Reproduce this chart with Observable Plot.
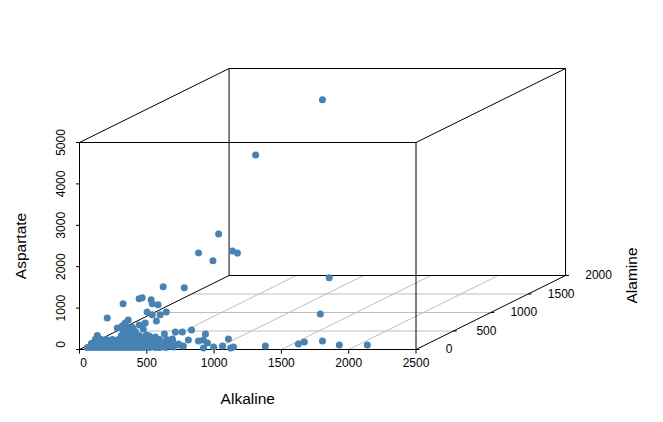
<!DOCTYPE html>
<html><head><meta charset="utf-8">
<script src="https://cdn.jsdelivr.net/npm/d3@7"></script>
<script src="https://cdn.jsdelivr.net/npm/@observablehq/plot@0.6"></script>
<style>html,body{margin:0;padding:0;background:#fff}svg{display:block}</style>
</head><body><div id="chart"></div>
<script>
const alkaline = [45,75,105,135,165,194,224,254,284,314,344,373,403,433,463,508,552,582,627,
48,85,123,160,197,235,272,309,346,384,421,466,503,540,593,630,
51,96,133,178,222,267,305,349,394,431,476,528,581,
39,218,263,307,352,
206,251,295,
165,210,247,
50,72,398,202,365,17,103,119,199,234,284,249,307,366,391,378,95,162,159,157,134,308,277,334,397,425,477,524,592,644,699,829,1033,1354,742,617,824,854,904,908,976,1036,1109,1124,695,678,745,589,1586,1617,1745,1897,2105,1549,1375,
1138,753,589,551,692,729,631,649,708];
const alamine = [24,24,24,24,24,24,24,24,24,24,24,24,24,24,24,24,24,24,24,
72,72,72,72,72,72,72,72,72,72,72,72,72,72,72,72,
120,120,120,120,120,120,120,120,120,120,120,120,120,
168,168,168,168,168,
216,216,216,
264,264,264,
132,132,1068,756,744,552,612,624,600,552,540,456,420,420,456,348,200,360,324,288,264,324,300,252,180,168,156,192,216,216,240,192,132,48,120,132,108,120,84,24,36,48,24,36,72,36,48,48,72,96,108,60,60,432,864,
1200,1000,800,600,800,800,108,48,60];
const aspartate = [27,27,27,27,27,27,27,27,27,27,27,27,27,27,27,27,27,27,27,
81,81,81,81,81,81,81,81,81,81,81,81,81,81,81,81,
135,135,135,135,135,135,135,135,135,135,135,135,135,
189,189,189,189,189,
243,243,243,
297,297,297,
137,137,1190,839,825,609,677,690,663,609,596,501,461,461,501,380,585,393,353,312,285,353,326,272,191,177,164,204,231,231,258,204,137,42,123,137,110,123,83,15,29,42,15,29,69,29,42,42,69,96,110,56,56,474,960,
4960,3805,2075,1795,1665,1615,110,42,56];
const alkalineTicks = [0,500,1000,1500,2000,2500];
const alamineTicks = [0,500,1000,1500,2000];
const aspartateTicks = [0,1000,2000,3000,4000,5000];

// oblique projection of scatterplot3d: depth along Alamine shifts right and up
const depthX = 0.5556, depthY = 0.8937;
const px = (alk, ala) => alk + ala * depthX;
const py = (asp, ala) => asp + ala * depthY;

const points = alkaline.map((a, i) => ({alk: a, ala: alamine[i], asp: aspartate[i]}));
const X = 2500, Y = 2000, Z = 5000;
const seg = (a, b) => ({x1: px(a[0], a[1]), y1: py(a[2], a[1]), x2: px(b[0], b[1]), y2: py(b[2], b[1])});
const box = [
  seg([0,0,0],[X,0,0]), seg([0,0,0],[0,0,Z]), seg([X,0,0],[X,0,Z]), seg([0,0,Z],[X,0,Z]),
  seg([0,0,0],[0,Y,0]), seg([X,0,0],[X,Y,0]), seg([0,0,Z],[0,Y,Z]), seg([X,0,Z],[X,Y,Z]),
  seg([0,Y,0],[X,Y,0]), seg([0,Y,0],[0,Y,Z]), seg([X,Y,0],[X,Y,Z]), seg([0,Y,Z],[X,Y,Z])
];
const grid = [
  ...alkalineTicks.slice(1, -1).map(v => seg([v,0,0],[v,Y,0])),
  ...alamineTicks.slice(1, -1).map(v => seg([0,v,0],[X,v,0]))
];
const link = (data, o) => Plot.link(data, {x1: "x1", y1: "y1", x2: "x2", y2: "y2", ...o});
const font = {fontFamily: "Liberation Sans, Arial, sans-serif", fill: "#000"};

const chart = Plot.plot({
  width: 663, height: 422,
  marginTop: 0, marginRight: 0, marginBottom: 0, marginLeft: 0,
  style: {background: "#fff", overflow: "visible"},
  x: {type: "linear", domain: [0, 2500], range: [79, 415.5], axis: null},
  y: {type: "linear", domain: [0, 5000], range: [349, 142], axis: null},
  marks: [
    link(grid, {stroke: "#bebebe", strokeWidth: 1}),
    link(box, {stroke: "#000", strokeWidth: 1}),
    // tick marks
    link(alkalineTicks.map(v => ({x1: v, x2: v, y1: 0, y2: -100})), {stroke: "#000"}),
    link(aspartateTicks.map(v => ({x1: 0, x2: -26, y1: v, y2: v})), {stroke: "#000"}),
    link(alamineTicks.map(v => ({x1: px(X, v), x2: px(X, v) + 25, y1: py(0, v), y2: py(0, v)})), {stroke: "#000"}),
    // tick labels
    Plot.text(alkalineTicks.slice(0, 1), {x: d => d, y: 0, text: d => String(d), dx: 4, dy: 14, fontSize: 12, ...font}),
    Plot.text(alkalineTicks.slice(1), {x: d => d, y: 0, text: d => String(d), dy: 14, fontSize: 12, ...font}),
    Plot.text(aspartateTicks.slice(0, 1), {x: 0, y: d => d, text: d => String(d), dx: -18, dy: -5, rotate: -90, fontSize: 12, ...font}),
    Plot.text(aspartateTicks.slice(1), {x: 0, y: d => d, text: d => String(d), dx: -18, rotate: -90, fontSize: 12, ...font}),
    Plot.text(alamineTicks, {x: d => px(X, d), y: d => py(0, d), text: d => String(d), dx: 33, fontSize: 12, ...font}),
    // points
    Plot.dot(points, {x: d => px(d.alk, d.ala), y: d => py(d.asp, d.ala), r: 3.5, fill: "#4682b4", stroke: "none"}),
    // axis titles
    Plot.text(["Alkaline"], {x: 1250, y: 0, text: d => d, dy: 50, fontSize: 15.5, ...font}),
    Plot.text(["Aspartate"], {x: 0, y: 2500, text: d => d, dx: -58, rotate: -90, fontSize: 15.5, ...font}),
    Plot.text(["Alamine"], {x: 2500, y: 0, text: d => d, dx: 216.5, dy: -74, rotate: -90, fontSize: 15.5, ...font})
  ]
});
document.getElementById("chart").append(chart);
</script></body></html>
